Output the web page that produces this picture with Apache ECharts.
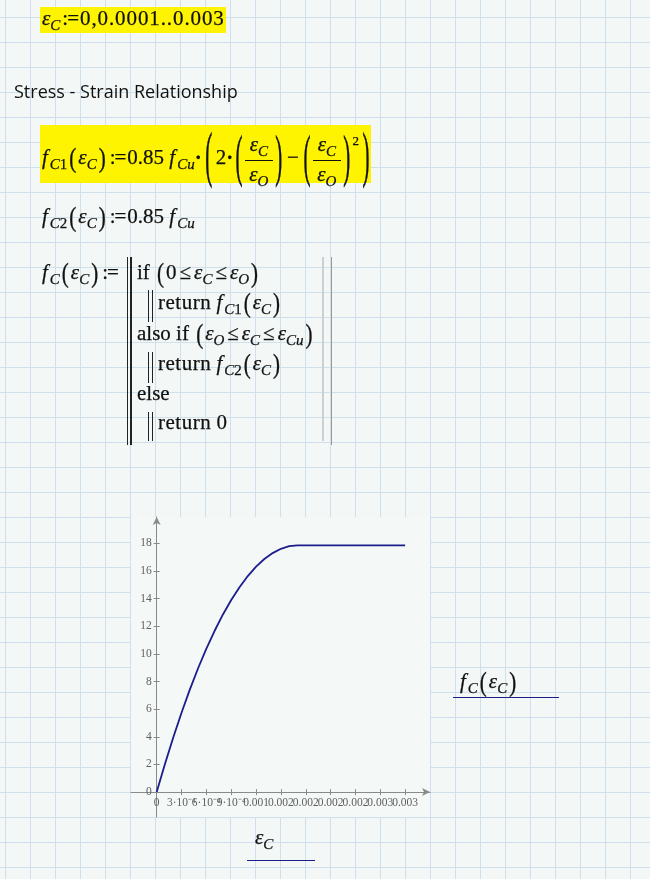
<!DOCTYPE html>
<html><head><meta charset="utf-8">
<script src="https://cdn.jsdelivr.net/npm/echarts@6/dist/echarts.min.js"></script>
<style>
html,body{margin:0;padding:0;}
body{width:650px;height:879px;position:relative;overflow:hidden;background-color:#f3f8f6;
 background-image:linear-gradient(to right,#cfe0ec 1px,transparent 1px),linear-gradient(to bottom,#cfe0ec 1px,transparent 1px);
 background-size:25px 25px;background-position:5px 17px;}
#chart{position:absolute;left:0;top:0;width:650px;height:879px;}
.m{position:absolute;font-family:"Liberation Serif","Times New Roman",serif;font-size:21px;line-height:21px;white-space:nowrap;color:#111;-webkit-text-stroke:0.25px #111;}
.m i{font-style:italic;}
.m sub{font-size:15px;line-height:0;vertical-align:-5px;}
.m sub.f{margin-left:2px;}
.m sup{font-size:13px;line-height:0;}
.hl{position:absolute;background:#fff400;}
.bar{position:absolute;}
.a{display:inline-block;transform-origin:50% 12.5px;transform:translateY(1px) scaleY(1.35);margin:0 2px;}
.bp{display:inline-block;transform-origin:50% 12.5px;transform:translateY(2px) scaleY(2.95);margin:0 3.5px;}
.sp{display:inline-block;transform-origin:50% 12.5px;transform:translateY(3px) scaleY(2.75);margin:0 2.3px;}
.le{margin:0 3px;}
.ce{margin:0 2px;letter-spacing:-1px;}
.rt{letter-spacing:0.5px;}
.fr{display:inline-block;position:relative;height:1px;vertical-align:baseline;}
.fr .n{position:absolute;left:0;right:0;text-align:center;top:-29.6px;}
.fr .d{position:absolute;left:0;right:0;text-align:center;top:1.1px;}
.fr .l{position:absolute;left:0;right:0;top:-3.7px;border-top:1.3px solid #111;}
.txt{position:absolute;font-family:"Open Sans","Noto Sans",sans-serif;font-size:18px;line-height:18px;color:#111;white-space:nowrap;}
.ul{position:absolute;height:1.5px;background:#1c1c8a;}
</style>
</head><body>
<div id="chart"></div>

<div class="hl" style="left:40px;top:7px;width:186px;height:26px;"></div>
<div class="m" style="left:42px;top:8.4px;"><i>ε</i><sub><i>C</i></sub><span class="ce">:=</span><span style="letter-spacing:0.9px">0,0.0001..0.003</span></div>

<div class="txt" style="left:14px;top:81.7px;">Stress - Strain Relationship</div>

<div class="hl" style="left:40px;top:125px;width:331px;height:58px;"></div>
<div class="m" style="left:42px;top:141.4px;"><i>f</i><sub class="f"><i>C</i>1</sub><span class="a">(</span><i>ε</i><sub><i>C</i></sub><span class="a">)</span><span class="ce">:=</span>0.85 <i>f</i><sub class="f"><i>Cu</i></sub><b>·</b><span class="bp">(</span>2<b>·</b><span class="sp">(</span><span class="fr" style="width:28px;"><span class="n"><i>ε</i><sub><i>C</i></sub></span><span class="l"></span><span class="d"><i>ε</i><sub><i>O</i></sub></span></span><span class="sp">)</span><span style="margin:0 2.5px">−</span><span class="sp">(</span><span class="fr" style="width:28px;"><span class="n"><i>ε</i><sub><i>C</i></sub></span><span class="l"></span><span class="d"><i>ε</i><sub><i>O</i></sub></span></span><span class="sp">)</span><sup style="vertical-align:19px">2</sup><span class="bp">)</span></div>

<div class="m" style="left:42px;top:206.4px;"><i>f</i><sub class="f"><i>C</i>2</sub><span class="a">(</span><i>ε</i><sub><i>C</i></sub><span class="a">)</span><span class="ce">:=</span>0.85 <i>f</i><sub class="f"><i>Cu</i></sub></div>

<div class="m" style="left:42px;top:262.4px;"><i>f</i><sub class="f"><i>C</i></sub><span class="a">(</span><i>ε</i><sub><i>C</i></sub><span class="a">)</span><span class="ce">:=</span></div>
<div class="bar" style="left:126.5px;top:257px;width:1.3px;height:188px;background:#222;"></div>
<div class="bar" style="left:130.3px;top:257px;width:1.3px;height:188px;background:#222;"></div>
<div class="bar" style="left:321.5px;top:257px;width:2.5px;height:184px;background:#cfcfcf;"></div>
<div class="bar" style="left:331px;top:257px;width:1px;height:188px;background:#9a9a9a;"></div>

<div class="m" style="left:137px;top:262.4px;">if <span class="a">(</span>0<span class="le">≤</span><i>ε</i><sub><i>C</i></sub><span class="le">≤</span><i>ε</i><sub><i>O</i></sub><span class="a">)</span></div>
<div class="bar" style="left:148px;top:290px;width:1.2px;height:32px;background:#222;"></div>
<div class="bar" style="left:151.5px;top:290px;width:1.2px;height:32px;background:#222;"></div>
<div class="m" style="left:158px;top:292.4px;"><span class="rt">return</span> <i>f</i><sub class="f"><i>C</i>1</sub><span class="a">(</span><i>ε</i><sub><i>C</i></sub><span class="a">)</span></div>

<div class="m" style="left:137px;top:323.4px;">also if <span class="a">(</span><i>ε</i><sub><i>O</i></sub><span class="le">≤</span><i>ε</i><sub><i>C</i></sub><span class="le">≤</span><i>ε</i><sub><i>Cu</i></sub><span class="a">)</span></div>
<div class="bar" style="left:148px;top:352px;width:1.2px;height:31px;background:#222;"></div>
<div class="bar" style="left:151.5px;top:352px;width:1.2px;height:31px;background:#222;"></div>
<div class="m" style="left:158px;top:352.9px;"><span class="rt">return</span> <i>f</i><sub class="f"><i>C</i>2</sub><span class="a">(</span><i>ε</i><sub><i>C</i></sub><span class="a">)</span></div>

<div class="m" style="left:137px;top:383.4px;">else</div>
<div class="bar" style="left:148px;top:412px;width:1.2px;height:29px;background:#222;"></div>
<div class="bar" style="left:151.5px;top:412px;width:1.2px;height:29px;background:#222;"></div>
<div class="m" style="left:158px;top:412.4px;"><span class="rt">return</span> 0</div>

<div class="m" style="left:460px;top:671.4px;"><i>f</i><sub class="f"><i>C</i></sub><span class="a">(</span><i>ε</i><sub><i>C</i></sub><span class="a">)</span></div>
<div class="ul" style="left:453px;top:696.5px;width:106px;"></div>
<div class="m" style="left:255px;top:827.4px;"><i>ε</i><sub><i>C</i></sub></div>
<div class="ul" style="left:247px;top:859.5px;width:68px;"></div>

<script>
// strain values ε_C = 0, 0.0001 .. 0.003
const strainValues = [0, 0.0001, 0.0002, 0.0003, 0.0004, 0.0005, 0.0006, 0.0007, 0.0008, 0.0009,
  0.0010, 0.0011, 0.0012, 0.0013, 0.0014, 0.0015, 0.0016, 0.0017, 0.0018, 0.0019,
  0.0020, 0.0021, 0.0022, 0.0023, 0.0024, 0.0025, 0.0026, 0.0027, 0.0028, 0.0029, 0.0030];
// stress f_C(ε_C)
const stressValues = [0, 2.04, 3.95, 5.74, 7.41, 8.96, 10.38, 11.67, 12.85, 13.90,
  14.82, 15.63, 16.31, 16.86, 17.29, 17.60, 17.79, 17.85, 17.85, 17.85,
  17.85, 17.85, 17.85, 17.85, 17.85, 17.85, 17.85, 17.85, 17.85, 17.85, 17.85];
const xTickValues = [0, 0.0003, 0.0006, 0.0009, 0.0012, 0.0015, 0.0018, 0.0021, 0.0024, 0.0027, 0.003];
const xTickLabels = ['0', '3·10⁻⁴', '6·10⁻⁴', '9·10⁻⁴', '0.001', '0.002', '0.002', '0.002', '0.002', '0.003', '0.003'];
const yTickValues = [0, 2, 4, 6, 8, 10, 12, 14, 16, 18];
const yTickLabels = ['0', '2', '4', '6', '8', '10', '12', '14', '16', '18'];

const axisGray = '#8a8a8a';
const labelStyle = {fontFamily: 'Liberation Serif', fontSize: 11.5, color: '#606060'};
const xMin = -0.00031, xMax = 0.0033, yMin = -1.8, yMax = 19.9;
const gridL = 131, gridT = 517, gridW = 299, gridH = 300;
// axes cross at (0,0): place them with offsets inside the plot box
const xZeroPx = gridW * (0 - xMin) / (xMax - xMin);
const yZeroPx = gridH * (0 - yMin) / (yMax - yMin);
// blank end labels so the automatic min/max overlap check never removes a real label
const xLabelValues = [xMin].concat(xTickValues, [xMax]);

const chart = echarts.init(document.getElementById('chart'), null, {renderer: 'canvas'});
chart.setOption({
  animation: false,
  backgroundColor: 'transparent',
  grid: {left: gridL, top: gridT, width: gridW, height: gridH, show: true, backgroundColor: '#f4f8f6', borderWidth: 0, containLabel: false},
  xAxis: [{
    type: 'value', min: xMin, max: xMax, position: 'bottom', offset: -yZeroPx,
    splitLine: {show: false},
    axisLine: {show: true, onZero: false, lineStyle: {color: axisGray, width: 1}, symbol: ['none', 'arrow'], symbolSize: [6, 8]},
    axisTick: {show: true, customValues: xTickValues, length: 3, lineStyle: {color: axisGray}},
    axisLabel: Object.assign({show: true, customValues: xLabelValues, margin: 5, hideOverlap: false,
      formatter: function (v) { const i = Math.round(v / 0.0003); return (v >= 0 && xTickLabels[i] !== undefined) ? xTickLabels[i] : ' '; }}, labelStyle)
  }, {
    type: 'value', min: xMin, max: xMax, position: 'top', offset: -(gridH - yZeroPx),
    splitLine: {show: false},
    axisLine: {show: false, onZero: false},
    axisTick: {show: true, customValues: xTickValues, length: 3, lineStyle: {color: axisGray}},
    axisLabel: {show: false}
  }],
  yAxis: [{
    type: 'value', min: yMin, max: yMax, position: 'left', offset: -xZeroPx,
    splitLine: {show: false},
    axisLine: {show: true, onZero: false, lineStyle: {color: axisGray, width: 1}, symbol: ['none', 'arrow'], symbolSize: [6, 8]},
    axisTick: {show: true, customValues: yTickValues, length: 3, lineStyle: {color: axisGray}},
    axisLabel: Object.assign({show: true, customValues: yTickValues, margin: 5, hideOverlap: false, showMinLabel: true, showMaxLabel: true,
      formatter: function (v) { const i = yTickValues.indexOf(Math.round(v)); return i >= 0 ? yTickLabels[i] : ''; }}, labelStyle)
  }, {
    type: 'value', min: yMin, max: yMax, position: 'right', offset: -(gridW - xZeroPx),
    splitLine: {show: false},
    axisLine: {show: false, onZero: false},
    axisTick: {show: true, customValues: yTickValues, length: 3, lineStyle: {color: axisGray}},
    axisLabel: {show: false}
  }],
  series: [{
    type: 'line', xAxisIndex: 0, yAxisIndex: 0,
    data: strainValues.map(function (x, i) { return [x, stressValues[i]]; }),
    showSymbol: false, symbol: 'none', clip: true,
    lineStyle: {color: '#1c1c8c', width: 1.8}
  }]
});
</script>
</body></html>
